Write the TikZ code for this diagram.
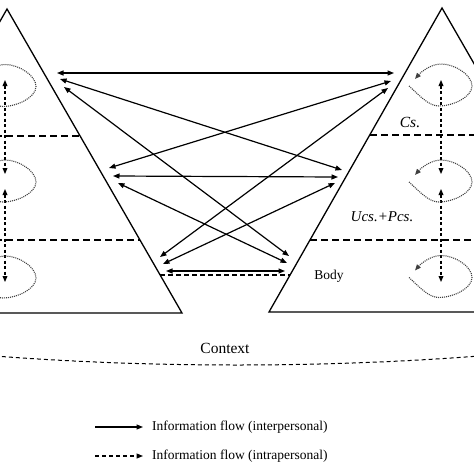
\documentclass[tikz,border=0pt]{standalone}
\usepackage{fontspec}
\setmainfont{Liberation Serif}
\usetikzlibrary{arrows.meta}
\tikzset{
  tri/.style={line width=1.3pt},
  level/.style={line width=1.4pt, dash pattern=on 7pt off 4pt},
  flow/.style={line width=1.2pt, {Triangle[length=6.5pt,width=5pt]}-{Triangle[length=6.5pt,width=5pt]}},
  intra/.style={line width=1.1pt, dash pattern=on 3pt off 2.5pt, {Triangle[length=6pt,width=4.8pt]}-{Triangle[length=6pt,width=4.8pt]}},
  eye/.style={line width=1.1pt, dash pattern=on 1pt off 1pt, black!75, -{Triangle[length=6pt,width=4.8pt]}},
  ctx/.style={line width=1pt, dash pattern=on 4pt off 3pt},
  lbl/.style={font=\fontsize{15}{17}\selectfont, inner sep=0pt},
  lgd/.style={font=\fontsize{13.5}{16}\selectfont, inner sep=0pt, anchor=west}
}
\newcommand{\eyeloop}[2]{%
  \draw[eye] (#1-32,#2+1) .. controls (#1-20,#2+12) and (#1-12,#2+21) .. (#1-2,#2+21)
    .. controls (#1+12,#2+21) and (#1+31,#2+12) .. (#1+31,#2+1)
    .. controls (#1+31,#2-10) and (#1+14,#2-21) .. (#1,#2-21)
    .. controls (#1-10,#2-21) and (#1-20,#2-13) .. (#1-26,#2-6);}
\begin{document}
\begin{tikzpicture}[x=1pt,y=-1pt]
\useasboundingbox (0,0) rectangle (474,474);
\fill[white] (0,0) rectangle (474,474);
\clip (0,0) rectangle (474,474);
% triangles
\coordinate (LA) at (7,9);
\coordinate (LR) at (182,313);
\coordinate (LL) at (-166,313);
\coordinate (RA) at (442,8);
\coordinate (RL) at (269,312);
\coordinate (RR) at (617,312);
\draw[tri] (LL) -- (LA) -- (LR) -- cycle;
\draw[tri] (RL) -- (RA) -- (RR) -- cycle;
% level lines
\coordinate (l1a) at (-5,136); \coordinate (l1b) at (80,136);
\coordinate (l2a) at (-5,240); \coordinate (l2b) at (140,240);
\coordinate (r1a) at (370,135); \coordinate (r1b) at (480,135);
\coordinate (r2a) at (310,240); \coordinate (r2b) at (480,240);
\draw[level] (l1a) -- (l1b);
\draw[level] (l2a) -- (l2b);
\draw[level] (r1a) -- (r1b);
\draw[level] (r2a) -- (r2b);
% intrapersonal vertical flows
\coordinate (lv1) at (5,80); \coordinate (lv2) at (5,174);
\coordinate (lv3) at (5,189); \coordinate (lv4) at (5,282);
\coordinate (rv1) at (441,80); \coordinate (rv2) at (441,174);
\coordinate (rv3) at (441,189); \coordinate (rv4) at (441,282);
\draw[intra] (lv1) -- (lv2);
\draw[intra] (lv3) -- (lv4);
\draw[intra] (rv1) -- (rv2);
\draw[intra] (rv3) -- (rv4);
% eyes
\eyeloop{5}{85.5}
\eyeloop{5}{181}
\eyeloop{5}{277}
\eyeloop{441}{85}
\eyeloop{441}{181}
\eyeloop{441}{276.5}
% ports
\coordinate (L1a) at (57,73);  \coordinate (L1b) at (60,79);  \coordinate (L1c) at (64,87);
\coordinate (R1a) at (394,73); \coordinate (R1b) at (391,81); \coordinate (R1c) at (388,88);
\coordinate (L2a) at (109,168); \coordinate (L2b) at (113,176); \coordinate (L2c) at (118,183);
\coordinate (R2a) at (342,170); \coordinate (R2b) at (338,177); \coordinate (R2c) at (335,183);
\coordinate (L3a) at (160,257); \coordinate (L3b) at (163,264); \coordinate (L3c) at (166,271);
\coordinate (R3a) at (289,256); \coordinate (R3b) at (287,263); \coordinate (R3c) at (285,271);
\draw[flow] (L1a) -- (R1a);
\draw[flow] (L1b) -- (R2a);
\draw[flow] (L1c) -- (R3a);
\draw[flow] (R1b) -- (L2a);
\draw[flow] (R1c) -- (L3a);
\draw[flow] (L2b) -- (R2b);
\draw[flow] (L2c) -- (R3b);
\draw[flow] (R2c) -- (L3b);
\draw[flow] (L3c) -- (R3c);
\coordinate (bd1) at (160,275); \coordinate (bd2) at (290,275);
\draw[line width=1.1pt, dash pattern=on 5pt off 3pt] (bd1) -- (bd2);
% labels
\node[lbl, font=\fontsize{15.5}{17}\selectfont\itshape] (cs) at (410,122) {Cs.};
\node[lbl, font=\fontsize{15}{17}\selectfont\itshape] (ucs) at (382,217) {Ucs.+Pcs.};
\node[lbl, font=\fontsize{13.5}{15}\selectfont] (body) at (329,276) {Body};
% context
\coordinate (c1) at (-5,356); \coordinate (c2) at (479,356);
\draw[ctx] (c1) .. controls (150,368) and (324,368) .. (c2);
\node[lbl, font=\fontsize{15.5}{17}\selectfont] (context) at (225,348) {Context};
% legend
\coordinate (g1a) at (95,427); \coordinate (g1b) at (143,427);
\coordinate (g2a) at (95,456); \coordinate (g2b) at (143,456);
\draw[line width=1.2pt, -{Triangle[length=6.5pt,width=5pt]}] (g1a) -- (g1b);
\draw[line width=1.1pt, dash pattern=on 4pt off 3pt, -{Triangle[length=6.5pt,width=5pt]}] (g2a) -- (g2b);
\node[lgd] (t1) at (152,427) {Information flow (interpersonal)};
\node[lgd] (t2) at (152,456) {Information flow (intrapersonal)};
\end{tikzpicture}
\end{document}
